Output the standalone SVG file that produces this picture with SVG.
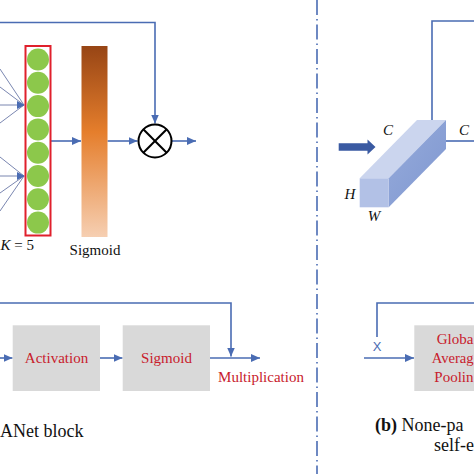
<svg xmlns="http://www.w3.org/2000/svg" width="474" height="474" viewBox="0 0 474 474">
<style>
.ln{fill:none;stroke:#4a6cb3;stroke-width:1.6}
.fan{fill:none;stroke:#7a86b0;stroke-width:1}
.box{fill:#d9d9d9}
.rt{font-family:"Liberation Serif",serif;font-size:15px;fill:#c8202c;text-anchor:middle}
.rs{font-family:"Liberation Serif",serif;font-size:15px;fill:#c8202c}
.bt{font-family:"Liberation Serif",serif;font-size:15px;fill:#111}
.it{font-family:"Liberation Serif",serif;font-size:15px;font-style:italic;fill:#111;text-anchor:middle}
.cap{font-family:"Liberation Serif",serif;font-size:18px;fill:#111}
</style>
<defs>
<marker id="ar" markerUnits="userSpaceOnUse" markerWidth="9" markerHeight="8" refX="9" refY="4" orient="auto">
<path d="M0,0 L9,4 L0,8 z" fill="#4a6cb3"/>
</marker>
<linearGradient id="og" x1="0" y1="0" x2="0" y2="1">
<stop offset="0" stop-color="#974515"/>
<stop offset="0.45" stop-color="#e57e2c"/>
<stop offset="1" stop-color="#f6cfb2"/>
</linearGradient>
<linearGradient id="rf" x1="0" y1="0" x2="1" y2="1">
<stop offset="0" stop-color="#96abdb"/>
<stop offset="1" stop-color="#7f97d0"/>
</linearGradient>
</defs>
<g id="connectors">
<polyline class="ln" points="0,22.5 155,22.5 155,123.5" marker-end="url(#ar)"/>
<line class="ln" x1="51" y1="141" x2="81" y2="141" marker-end="url(#ar)"/>
<line class="ln" x1="107.5" y1="141" x2="137.5" y2="141" marker-end="url(#ar)"/>
<line class="ln" x1="172" y1="141" x2="196" y2="141" marker-end="url(#ar)"/>
<g class="fan">
<line x1="0" y1="69" x2="24" y2="105"/>
<line x1="0" y1="87" x2="24" y2="105"/>
<line x1="0" y1="105" x2="24" y2="105"/>
<line x1="0" y1="123" x2="24" y2="105"/>
<line x1="0" y1="157" x2="24" y2="176"/>
<line x1="0" y1="176" x2="24" y2="176"/>
<line x1="0" y1="193" x2="24" y2="176"/>
<line x1="0" y1="211" x2="24" y2="176"/>
</g>
<path d="M17,101 L25,105 L17,109 z" fill="#4a6cb3"/>
<path d="M17,172 L25,176 L17,180 z" fill="#4a6cb3"/>
<line class="ln" x1="0" y1="358" x2="12.5" y2="358" marker-end="url(#ar)"/>
<line class="ln" x1="100" y1="358" x2="122.5" y2="358" marker-end="url(#ar)"/>
<line class="ln" x1="210" y1="358" x2="260" y2="358" marker-end="url(#ar)"/>
<polyline class="ln" points="0,303 231,303 231,356.5" marker-end="url(#ar)"/>
<line x1="317" y1="0" x2="317" y2="474" stroke="#4a6cb3" stroke-width="1.6" stroke-dasharray="15,4,1.5,4"/>
<polyline class="ln" points="474,21 432,21 432,120"/>
<line class="ln" x1="446" y1="141" x2="474" y2="141"/>
<polyline class="ln" points="474,303 377,303 377,337"/>
<line class="ln" x1="364" y1="358" x2="414" y2="358" marker-end="url(#ar)"/>
</g>
<g id="conv-layer">
<rect x="25.5" y="46" width="25" height="189.5" fill="none" stroke="#e0202c" stroke-width="2"/>
<g fill="#8cc84b">
<circle cx="38" cy="59.5" r="11"/>
<circle cx="38" cy="82.8" r="11"/>
<circle cx="38" cy="106.1" r="11"/>
<circle cx="38" cy="129.4" r="11"/>
<circle cx="38" cy="152.7" r="11"/>
<circle cx="38" cy="176" r="11"/>
<circle cx="38" cy="199.3" r="11"/>
<circle cx="38" cy="222.6" r="11"/>
</g>
<text class="bt" x="0.5" y="250" font-size="13"><tspan font-style="italic">K</tspan> = 5</text>
</g>
<g id="sigmoid-bar">
<rect x="81.5" y="46" width="26" height="191" fill="url(#og)"/>
<text class="bt" x="95" y="255" text-anchor="middle">Sigmoid</text>
</g>
<g id="multiply">
<circle cx="155" cy="141" r="16.5" fill="#fff" stroke="#000" stroke-width="2"/>
<line x1="143.3" y1="129.3" x2="166.7" y2="152.7" stroke="#000" stroke-width="2"/>
<line x1="166.7" y1="129.3" x2="143.3" y2="152.7" stroke="#000" stroke-width="2"/>
</g>
<g id="activation">
<rect class="box" x="12.7" y="325.3" width="87.3" height="65.7"/>
<text class="rt" x="56.5" y="363">Activation</text>
</g>
<g id="sigmoid-box">
<rect class="box" x="122.7" y="325.3" width="87.3" height="65.7"/>
<text class="rt" x="166.5" y="363">Sigmoid</text>
</g>
<g id="multiplication-label">
<text class="rt" x="261" y="382">Multiplication</text>
</g>
<g id="caption-a">
<text class="cap" x="0" y="437">ANet block</text>
</g>
<g id="tensor">
<polygon points="359.7,178.3 388.7,178.3 446,120 417,120" fill="#cbd5ee"/>
<polygon points="388.7,178.3 446,120 446,149 388.7,207.3" fill="url(#rf)"/>
<rect x="359.7" y="178.3" width="29" height="29" fill="#b2c1e6"/>
<path d="M338.7,143.3 H367.5 V139.5 L375.5,147 L367.5,154.5 V150.7 H338.7 z" fill="#3a5aa2"/>
<text class="it" x="388" y="135">C</text>
<text class="it" x="350" y="199">H</text>
<text class="it" x="374" y="221">W</text>
<text class="it" x="464" y="135" text-anchor="start">C</text>
</g>
<g id="x-label">
<text x="377" y="351" font-family="Liberation Sans,sans-serif" font-size="13" fill="#4a6cb3" text-anchor="middle">X</text>
</g>
<g id="gap-box">
<rect class="box" x="414.3" y="325.3" width="60" height="65.7"/>
<text class="rs" x="436.7" y="344.3">Globa</text>
<text class="rs" x="431.7" y="363" textLength="42" lengthAdjust="spacingAndGlyphs">Averag</text>
<text class="rs" x="434.3" y="381.5">Poolin</text>
</g>
<g id="caption-b">
<text class="cap" x="375" y="430.5"><tspan font-weight="bold">(b)</tspan> None-pa</text>
<text class="cap" x="434" y="450.5">self-e</text>
</g>
</svg>
